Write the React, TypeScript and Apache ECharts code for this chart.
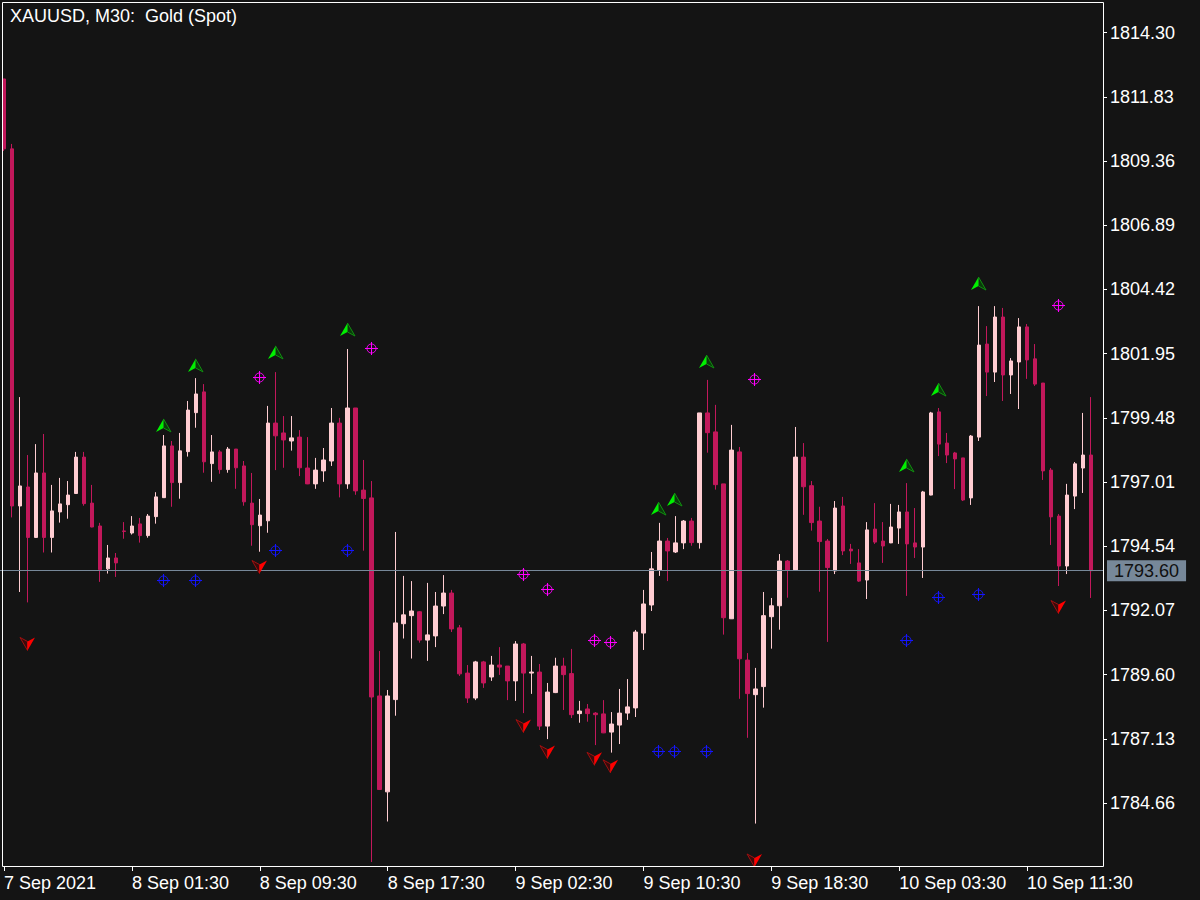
import React, { useEffect, useRef } from "react";
import * as echarts from "echarts";

const FONT = "Liberation Sans";
const titleText = "XAUUSD, M30:  Gold (Spot)";
const priceTicks = [1784.66, 1787.13, 1789.6, 1792.07, 1794.54, 1797.01, 1799.48, 1801.95, 1804.42, 1806.89, 1809.36, 1811.83, 1814.3];
const timeTickLabels = ["7 Sep 2021", "8 Sep 01:30", "8 Sep 09:30", "8 Sep 17:30", "9 Sep 02:30", "9 Sep 10:30", "9 Sep 18:30", "10 Sep 03:30", "10 Sep 11:30"];
const lastPrice = 1793.6;
const yMin = 1782.199;
const yMax = 1815.558;

const opens = [
  1812.52, 1809.83, 1796.09, 1796.82, 1794.88, 1797.36, 1794.88, 1795.86, 1796.14, 1796.57,
  1797.97, 1796.2, 1795.32, 1793.67, 1794.09, 1795.13, 1795.05, 1795.4, 1794.95, 1795.68,
  1796.41, 1798.4, 1796.99, 1798.18, 1799.68, 1800.48, 1797.72, 1798.17, 1797.49, 1798.28,
  1797.63, 1796.2, 1795.33, 1795.52, 1799.28, 1798.9, 1798.59, 1798.74, 1797.55, 1796.94,
  1797.44, 1797.82, 1799.28, 1796.94, 1799.86, 1796.7, 1796.4, 1788.78, 1785.09, 1788.64,
  1791.56, 1791.87, 1792.02, 1790.93, 1791.09, 1792.24, 1792.74, 1791.4, 1789.66, 1788.7,
  1790.09, 1789.51, 1789.97, 1789.93, 1789.36, 1790.78, 1789.66, 1789.7, 1787.62, 1788.91,
  1789.93, 1789.64, 1788.1, 1788.28, 1788.12, 1788.09, 1787.39, 1787.66, 1788.12, 1788.32,
  1791.2, 1792.28, 1793.63, 1794.74, 1794.32, 1794.67, 1795.51, 1794.68, 1799.67, 1798.94,
  1796.94, 1791.75, 1798.17, 1790.16, 1788.83, 1789.14, 1791.83, 1792.25, 1793.97, 1793.63,
  1797.97, 1796.87, 1795.51, 1794.74, 1793.59, 1796.09, 1794.43, 1793.9, 1793.24, 1795.2,
  1794.74, 1794.67, 1795.24, 1795.86, 1794.67, 1794.51, 1796.51, 1799.71, 1798.51, 1798.13,
  1797.94, 1796.4, 1798.74, 1802.32, 1801.24, 1803.36, 1801.13, 1801.63, 1802.98, 1801.75,
  1800.82, 1797.47, 1795.7, 1793.78, 1796.47, 1797.55, 1798.05,
];
const closes = [
  1809.83, 1796.09, 1796.86, 1794.88, 1797.36, 1794.88, 1795.9, 1796.17, 1796.51, 1797.97,
  1796.18, 1795.28, 1793.64, 1794.09, 1793.9, 1795.11, 1795.32, 1794.95, 1795.7, 1796.44,
  1798.4, 1796.99, 1798.21, 1799.78, 1800.4, 1797.79, 1798.17, 1797.49, 1798.28, 1797.56,
  1796.25, 1795.37, 1795.74, 1799.28, 1798.79, 1798.63, 1798.71, 1797.56, 1796.94, 1797.47,
  1797.86, 1799.28, 1796.94, 1799.86, 1796.67, 1796.38, 1788.74, 1785.18, 1788.78, 1791.59,
  1791.9, 1792.05, 1790.93, 1791.13, 1792.24, 1792.74, 1791.36, 1789.63, 1788.7, 1790.09,
  1789.28, 1789.97, 1789.89, 1789.36, 1790.78, 1789.66, 1789.7, 1787.62, 1788.93, 1789.93,
  1789.6, 1788.06, 1788.2, 1788.1, 1788.06, 1787.36, 1787.7, 1788.12, 1788.36, 1791.24,
  1792.32, 1793.67, 1794.74, 1794.36, 1794.67, 1795.51, 1794.68, 1799.67, 1798.91, 1796.91,
  1791.79, 1798.24, 1790.21, 1788.87, 1789.05, 1791.87, 1792.25, 1793.97, 1793.63, 1797.97,
  1796.83, 1795.45, 1794.72, 1793.72, 1796.01, 1794.36, 1794.36, 1793.2, 1795.17, 1794.7,
  1794.55, 1795.28, 1795.86, 1794.63, 1794.51, 1796.63, 1799.67, 1798.47, 1798.05, 1797.9,
  1796.32, 1798.78, 1802.28, 1801.24, 1803.36, 1801.13, 1801.67, 1802.98, 1801.71, 1800.78,
  1797.44, 1795.67, 1793.78, 1796.51, 1797.71, 1798.05, 1793.6,
];
const lows = [
  1809.75, 1795.65, 1792.78, 1792.38, 1794.86, 1794.3, 1794.3, 1795.45, 1795.6, 1796.55,
  1796.1, 1795.27, 1793.17, 1793.49, 1793.36, 1794.83, 1794.99, 1794.68, 1794.87, 1795.41,
  1796.4, 1796.06, 1796.37, 1797.99, 1799.1, 1797.37, 1797.02, 1797.33, 1797.37, 1796.75,
  1796.1, 1794.56, 1794.33, 1795.06, 1797.47, 1797.56, 1798.22, 1797.24, 1796.93, 1796.75,
  1797.02, 1797.63, 1796.42, 1796.75, 1796.52, 1794.37, 1782.39, 1785.16, 1783.95, 1788.02,
  1790.99, 1790.22, 1790.83, 1790.13, 1790.66, 1791.93, 1791.24, 1789.55, 1788.51, 1788.62,
  1789.09, 1789.36, 1789.59, 1788.62, 1788.59, 1788.12, 1788.86, 1787.47, 1787.12, 1788.89,
  1788.24, 1787.93, 1787.75, 1787.79, 1786.89, 1787.35, 1786.6, 1786.93, 1787.86, 1787.97,
  1790.55, 1792.05, 1793.4, 1793.2, 1794.28, 1794.43, 1794.56, 1794.45, 1798.14, 1796.72,
  1791.14, 1791.74, 1788.67, 1787.17, 1783.87, 1788.33, 1790.6, 1791.33, 1792.56, 1793.62,
  1795.75, 1795.14, 1792.79, 1790.86, 1793.47, 1794.2, 1793.86, 1793.17, 1792.51, 1794.63,
  1793.9, 1794.66, 1794.63, 1792.63, 1794.09, 1793.32, 1796.5, 1798.01, 1797.74, 1796.74,
  1796.28, 1796.13, 1798.59, 1800.32, 1800.86, 1800.13, 1800.4, 1799.82, 1800.98, 1800.71,
  1797.09, 1794.59, 1793.01, 1793.47, 1795.97, 1796.59, 1792.55,
];
const highs = [
  1812.52, 1810.02, 1800.28, 1798.05, 1798.47, 1798.86, 1796.9, 1797.17, 1797.05, 1798.17,
  1798.17, 1796.9, 1795.44, 1794.59, 1794.28, 1795.47, 1795.7, 1795.63, 1795.78, 1796.62,
  1798.82, 1798.59, 1798.9, 1800.13, 1801.01, 1800.78, 1798.82, 1798.24, 1798.36, 1798.28,
  1797.82, 1797.36, 1796.36, 1799.94, 1801.24, 1799.55, 1799.55, 1799.01, 1798.74, 1797.94,
  1798.32, 1799.86, 1799.48, 1802.13, 1799.86, 1797.86, 1797.05, 1790.51, 1789.01, 1795.09,
  1793.4, 1793.2, 1792.05, 1793.13, 1792.78, 1793.43, 1792.86, 1791.51, 1789.97, 1790.13,
  1790.13, 1790.32, 1790.66, 1789.93, 1790.89, 1790.82, 1790.32, 1790.01, 1789.28, 1790.25,
  1790.25, 1790.59, 1788.59, 1788.47, 1788.16, 1788.62, 1788.16, 1789.05, 1789.43, 1791.32,
  1792.86, 1794.32, 1795.44, 1794.86, 1795.7, 1795.55, 1795.63, 1799.67, 1800.94, 1799.98,
  1796.94, 1799.21, 1798.36, 1790.43, 1789.86, 1792.78, 1792.55, 1794.24, 1794.01, 1799.13,
  1798.51, 1797.05, 1796.06, 1794.82, 1796.28, 1796.44, 1794.63, 1794.43, 1795.47, 1796.2,
  1795.47, 1796.17, 1796.13, 1796.97, 1796.01, 1796.67, 1799.71, 1799.86, 1798.9, 1798.17,
  1797.94, 1798.82, 1803.78, 1803.01, 1803.78, 1803.71, 1801.78, 1803.32, 1803.09, 1802.32,
  1800.82, 1797.55, 1795.78, 1796.94, 1797.78, 1799.67, 1800.28,
];

const upArrowIdx = [20, 24, 34, 43, 82, 84, 88, 113, 117, 122];
const upArrowVal = [1799.17, 1801.48, 1801.98, 1802.86, 1795.97, 1796.32, 1801.63, 1797.63, 1800.55, 1804.63];
const downArrowIdx = [3, 32, 65, 68, 74, 76, 94, 132];
const downArrowVal = [1790.8, 1793.76, 1787.64, 1786.64, 1786.38, 1786.09, 1782.47, 1792.22];
const magentaIdx = [32, 46, 65, 68, 74, 76, 94, 132];
const magentaVal = [1801.05, 1802.17, 1793.47, 1792.9, 1790.93, 1790.86, 1800.98, 1803.82];
const blueIdx = [20, 24, 34, 43, 82, 84, 88, 113, 117, 122];
const blueVal = [1793.24, 1793.24, 1794.4, 1794.4, 1786.66, 1786.66, 1786.66, 1790.93, 1792.59, 1792.7];

const BAR_STEP = 16;
const SLOTS = 138;

function pad(n: number) {
  return n < 10 ? "0" + n : "" + n;
}
function buildCategories(count: number): string[] {
  const out: string[] = [];
  let t = Date.UTC(2021, 8, 7, 16, 30);
  while (out.length < count) {
    const d = new Date(t);
    const h = d.getUTCHours();
    if (h !== 0) {
      out.push(`${d.getUTCFullYear()}.${pad(d.getUTCMonth() + 1)}.${pad(d.getUTCDate())} ${pad(h)}:${pad(d.getUTCMinutes())}`);
    }
    t += 30 * 60 * 1000;
  }
  return out;
}

const categories = buildCategories(SLOTS);

function pairs(idx: number[], val: number[]) {
  return idx.map((i, k) => [i, val[k]]);
}

export default function App() {
  const ref = useRef<HTMLDivElement>(null);
  useEffect(() => {
    if (!ref.current) return;
    const chart = echarts.init(ref.current, undefined, { renderer: "svg" });
    const candleData = opens.map((o, i) => [o, closes[i], lows[i], highs[i]]);

    const upArrow = (params: any, api: any) => {
      const p = api.coord([api.value(0), api.value(1)]);
      const cx = Math.round(p[0]) - 0.5;
      const cy = p[1];
      return {
        type: "group",
        children: [
          { type: "polygon", shape: { points: [[cx, cy - 7], [cx - 7.5, cy + 6], [cx, cy + 2]] }, style: { fill: "#00f000" } },
          { type: "polygon", shape: { points: [[cx, cy - 7], [cx, cy + 2], [cx + 7.5, cy + 6]] }, style: { fill: "#0a3a0a", stroke: "#109010", lineWidth: 1 } },
        ],
      };
    };
    const downArrow = (params: any, api: any) => {
      const p = api.coord([api.value(0), api.value(1)]);
      const cx = Math.round(p[0]) - 0.5;
      const cy = p[1];
      return {
        type: "group",
        children: [
          { type: "polygon", shape: { points: [[cx, cy + 7], [cx - 7.5, cy - 6], [cx, cy - 2]] }, style: { fill: "#3a0a0a", stroke: "#a01010", lineWidth: 1 } },
          { type: "polygon", shape: { points: [[cx, cy + 7], [cx, cy - 2], [cx + 7.5, cy - 6]] }, style: { fill: "#ff0000" } },
        ],
      };
    };
    const target = (color: string) => (params: any, api: any) => {
      const p = api.coord([api.value(0), api.value(1)]);
      const cx = Math.round(p[0]) - 0.5;
      const cy = Math.round(p[1]) + 0.5;
      const st = { stroke: color, lineWidth: 1, fill: null };
      return {
        type: "group",
        children: [
          { type: "circle", shape: { cx, cy, r: 4.5 }, style: { ...st } },
          { type: "line", shape: { x1: cx - 6.5, y1: cy, x2: cx + 6.5, y2: cy }, style: { ...st } },
          { type: "line", shape: { x1: cx, y1: cy - 6.5, x2: cx, y2: cy + 6.5 }, style: { ...st } },
        ],
      };
    };

    const option: any = {
      animation: false,
      backgroundColor: "#141414",
      textStyle: { fontFamily: FONT },
      title: {
        text: titleText,
        left: 5,
        top: 2,
        textStyle: { color: "#ffffff", fontSize: 18, fontWeight: "normal", fontFamily: FONT },
      },
      grid: { left: -1, top: 0, width: SLOTS * 8, height: 867 },
      xAxis: {
        type: "category",
        data: categories,
        boundaryGap: true,
        axisLine: { show: false },
        axisTick: {
          show: true,
          alignWithLabel: true,
          length: 4,
          interval: (i: number) => i % BAR_STEP === 0 && i / BAR_STEP < timeTickLabels.length,
          lineStyle: { color: "#ffffff", width: 1 },
        },
        axisLabel: {
          show: true,
          interval: (i: number) => i % BAR_STEP === 0 && i / BAR_STEP < timeTickLabels.length,
          formatter: (_v: string, i: number) => timeTickLabels[i / BAR_STEP] ?? "",
          align: "left",
          margin: 7,
          color: "#ffffff",
          fontSize: 18,
          fontFamily: FONT,
        },
        splitLine: { show: false },
      },
      yAxis: {
        type: "value",
        position: "right",
        min: yMin,
        max: yMax,
        axisLine: { show: false },
        axisTick: { show: true, length: 4, customValues: priceTicks, lineStyle: { color: "#ffffff" } },
        axisLabel: {
          show: true,
          customValues: priceTicks,
          formatter: (v: number) => v.toFixed(2),
          color: "#ffffff",
          fontSize: 18,
          fontFamily: FONT,
          margin: 7,
        },
        splitLine: { show: false },
      },
      graphic: [
        {
          type: "rect",
          z: 100,
          silent: true,
          shape: { x: 2.5, y: 2.5, width: 1101, height: 864 },
          style: { fill: null, stroke: "#ffffff", lineWidth: 1 },
        },
      ],
      series: [
        {
          type: "candlestick",
          data: candleData,
          barWidth: 4,
          itemStyle: {
            color: "#ffcdd2",
            color0: "#c2185b",
            borderColor: "#ffcdd2",
            borderColor0: "#c2185b",
            borderWidth: 1,
          },
          z: 2,
        },
        {
          type: "line",
          data: [],
          silent: true,
          clip: false,
          z: 5,
          markLine: {
            silent: true,
            symbol: ["none", "none"],
            lineStyle: { color: "#778899", width: 1, type: "solid" },
            emphasis: { disabled: true },
            label: {
              show: true,
              position: "end",
              distance: 4,
              formatter: lastPrice.toFixed(2),
              color: "#101010",
              backgroundColor: "#778899",
              padding: [2, 7, 1, 7],
              fontSize: 18,
              lineHeight: 18,
              fontFamily: FONT,
            },
            data: [{ yAxis: lastPrice }],
          },
        },
        { type: "custom", renderItem: target("#1414ff"), data: pairs(blueIdx, blueVal), z: 6, silent: true, clip: false },
        { type: "custom", renderItem: target("#ff00ff"), data: pairs(magentaIdx, magentaVal), z: 6, silent: true, clip: false },
        { type: "custom", renderItem: upArrow, data: pairs(upArrowIdx, upArrowVal), z: 7, silent: true, clip: false },
        { type: "custom", renderItem: downArrow, data: pairs(downArrowIdx, downArrowVal), z: 7, silent: true, clip: false },
      ],
    };
    chart.setOption(option);
    return () => chart.dispose();
  }, []);
  return (
    <div
      ref={ref}
      style={{ position: "fixed", left: 0, top: 0, width: 1200, height: 900, background: "#141414" }}
    />
  );
}
